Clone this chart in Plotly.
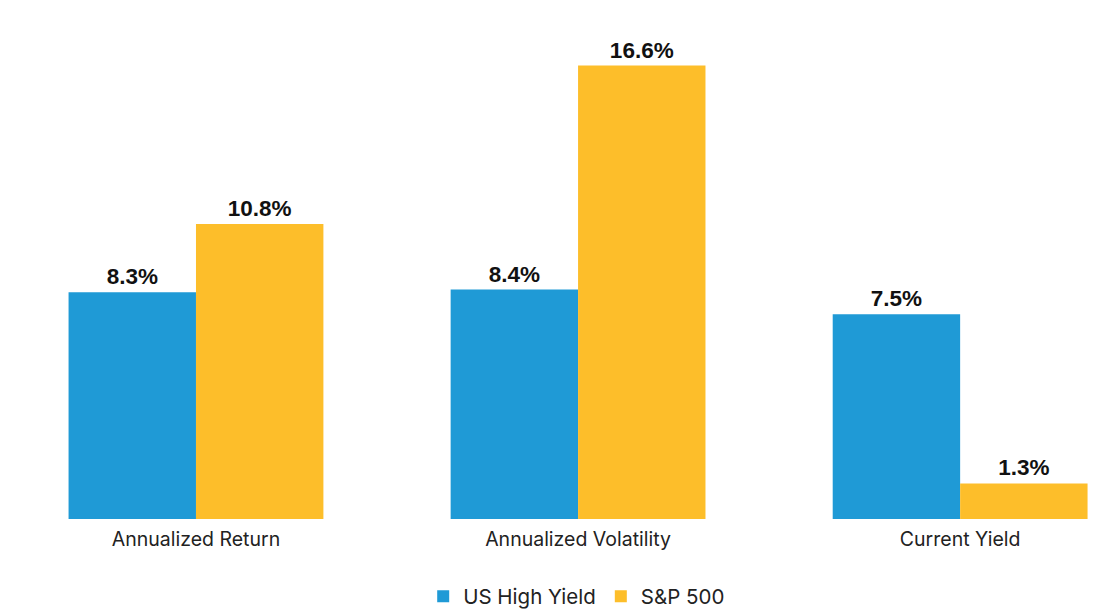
import plotly.graph_objects as go

categories = ["Annualized Return", "Annualized Volatility", "Current Yield"]
us_high_yield = [8.3, 8.4, 7.5]
sp500 = [10.8, 16.6, 1.3]
series_names = ["US High Yield", "S&P 500"]
colors = ["#1F9AD6", "#FDBE2A"]

fig = go.Figure()
for name, vals, col in zip(series_names, [us_high_yield, sp500], colors):
    fig.add_trace(go.Bar(
        x=categories, y=vals, name=name,
        marker=dict(color=col, line=dict(width=0)),
        text=[f"<b>{v:.1f}%</b>" for v in vals],
        textposition="outside",
        textfont=dict(family="Liberation Sans", size=22.5, color="#111111"),
        cliponaxis=False,
    ))

fig.update_layout(
    width=1100, height=614,
    barmode="group", bargap=0.333, bargroupgap=0,
    plot_bgcolor="white", paper_bgcolor="white",
    margin=dict(l=0, r=0, t=33, b=103),
    font=dict(family="Inter", size=19.5, color="#222222"),
    showlegend=True,
    legend=dict(orientation="h", x=0.517, xanchor="center", y=-0.12, yanchor="top",
                font=dict(family="Inter", size=20.5, color="#222222"),
                traceorder="normal", itemwidth=30),
)
fig.update_xaxes(range=[-0.492, 2.387], showgrid=False, showline=False, zeroline=False,
                 ticks="", ticklabelstandoff=6,
                 tickfont=dict(family="Inter", size=19.5, color="#222222"))
fig.update_yaxes(range=[0, 17.5], visible=False, showgrid=False)

fig.write_html("out.html")
